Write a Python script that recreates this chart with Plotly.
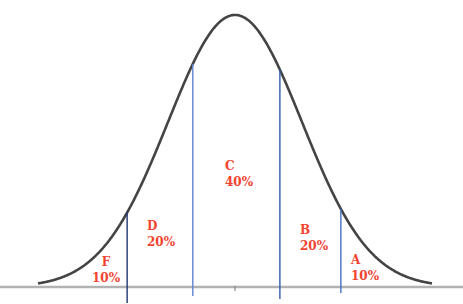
import numpy as np
import plotly.graph_objects as go

# ---- data ----
grades = ["F", "D", "C", "B", "A"]
shares = ["10%", "20%", "40%", "20%", "10%"]
cutoffs = [-1.61, -0.63, 0.67, 1.58]          # z-score boundaries between grades
cutoff_depth = [-0.0235, -0.0132, -0.0176, -0.0088]  # how far each divider drops below the axis
curve_span = [-2.94, 2.94]
label_x = [-1.92, -1.34, -0.18, 0.94, 1.69]
label_y = [0.025, 0.078, 0.166, 0.072, 0.028]

def pdf(z):
    return np.exp(-np.asarray(z) ** 2 / 2) / np.sqrt(2 * np.pi)

XR = [-235 / 67, (463 - 235) / 67]
YR = [-0.0249, 0.4209]

fig = go.Figure()

# baseline
fig.add_trace(go.Scatter(x=XR, y=[0, 0], mode="lines",
                         line=dict(color="#b2b2b2", width=2.5), hoverinfo="skip"))
# centre tick
fig.add_trace(go.Scatter(x=[0, 0], y=[0.002, -0.006], mode="lines",
                         line=dict(color="#8a8a8a", width=1.2), hoverinfo="skip"))

# bell curve
z = np.linspace(curve_span[0], curve_span[1], 400)
fig.add_trace(go.Scatter(x=z, y=pdf(z), mode="lines",
                         line=dict(color="#444444", width=2.6, shape="spline"),
                         hoverinfo="skip"))

# dividers
div_colors = ["#1e3570", "#5e86d0", "#2e5cb0", "#4470c2"]
for c, d, col in zip(cutoffs, cutoff_depth, div_colors):
    fig.add_trace(go.Scatter(x=[c, c], y=[d, float(pdf(c))], mode="lines",
                             line=dict(color=col, width=1.4), hoverinfo="skip"))

# labels
for i, (g, s, lx, ly) in enumerate(zip(grades, shares, label_x, label_y)):
    fig.add_annotation(x=lx, y=ly, text=f"<b>{g}<br>{s}</b>", showarrow=False,
                       xanchor="center" if i == 0 else "left",
                       yanchor="middle", align="center" if i == 0 else "left",
                       font=dict(family="DejaVu Serif", size=12, color="#f2432f"))

fig.update_layout(
    width=463, height=304,
    margin=dict(l=0, r=0, t=0, b=0),
    paper_bgcolor="white", plot_bgcolor="white",
    showlegend=False,
    xaxis=dict(range=XR, visible=False, fixedrange=True),
    yaxis=dict(range=YR, visible=False, fixedrange=True),
)

fig.write_html("out.html")
